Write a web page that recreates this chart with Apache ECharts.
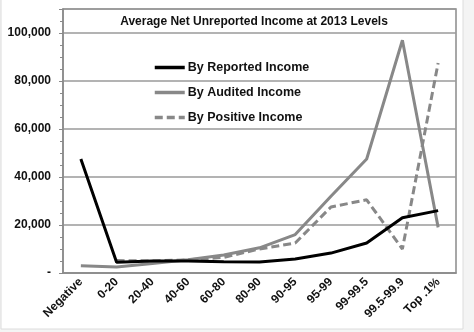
<!DOCTYPE html>
<html><head><meta charset="utf-8">
<script src="https://cdn.jsdelivr.net/npm/echarts@6/dist/echarts.min.js"></script>
<style>html,body{margin:0;padding:0;background:#f4f4f4}#c{width:474px;height:332px}</style>
</head><body><div id="c"></div>
<script>
const categories = ['Negative','0-20','20-40','40-60','60-80','80-90','90-95','95-99','99-99.5','99.5-99.9','Top .1%'];
const reported = [47500, 4500, 5000, 5000, 4700, 4600, 5800, 8300, 12500, 23000, 26000];
const audited  = [3000, 2500, 4000, 5500, 7500, 10500, 16000, 32000, 47500, 97000, 19000];
const positive = ['-', 5200, 5000, 5500, 6500, 10000, 12500, 27500, 30500, 10000, 87500];
const seriesNames = ['By Reported Income','By Audited Income','By Positive Income'];
const titleText = 'Average Net Unreported Income at 2013 Levels';

const F = '"Liberation Sans", Arial, sans-serif';
const chart = echarts.init(document.getElementById('c'), null, {renderer:'canvas'});
chart.setOption({
  animation:false,
  backgroundColor:'#f4f4f4',
  graphic:[
    {type:'rect', z:-10, shape:{x:1,y:-2,width:462,height:331}, style:{fill:'#ffffff', stroke:'#dcdcdc', lineWidth:1}},
    {type:'text', z:10, style:{text:titleText, x:254, y:22, textAlign:'center', textVerticalAlign:'middle', font:'bold 12px '+F, fill:'#111'}}
  ],
  grid:{left:63, right:18, top:9, bottom:59, show:true, borderColor:'#8a8a8a', borderWidth:1.5, backgroundColor:'transparent'},
  legend:{
    orient:'vertical', left:148, top:56, itemWidth:30, itemHeight:14, itemGap:12,
    itemStyle:{opacity:0},
    lineStyle:{width:3.5},
    textStyle:{fontFamily:F, fontWeight:'bold', fontSize:12.5, color:'#111', padding:[0,0,0,-2]},
    data:seriesNames
  },
  xAxis:{
    type:'category', data:categories, boundaryGap:true,
    axisLine:{lineStyle:{color:'#8a8a8a', width:1.5}},
    axisTick:{show:false},
    axisLabel:{rotate:45, interval:0, margin:7, fontFamily:F, fontWeight:'bold', fontSize:12, color:'#111'}
  },
  yAxis:{
    type:'value', min:0, max:110000, interval:20000,
    axisLine:{show:true, lineStyle:{color:'#8a8a8a', width:1.5}},
    axisTick:{show:true, inside:false, length:4, lineStyle:{color:'#8a8a8a'}},
    minorTick:{show:true, splitNumber:4, length:3, lineStyle:{color:'#8a8a8a', width:1}},
    splitLine:{show:true, lineStyle:{color:'#9a9a9a', width:1.5}},
    axisLabel:{margin:12, fontFamily:F, fontWeight:'bold', fontSize:12, color:'#111',
      formatter:v => v===0 ? '-' : (v>100000 ? '' : v.toLocaleString('en-US'))}
  },
  series:[
    {name:seriesNames[0], type:'line', data:reported, symbol:'none', z:4, lineStyle:{color:'#000', width:3}, itemStyle:{color:'#000'}},
    {name:seriesNames[1], type:'line', data:audited, symbol:'none', z:3, lineStyle:{color:'#888', width:3}, itemStyle:{color:'#888'}},
    {name:seriesNames[2], type:'line', data:positive, symbol:'none', z:2, lineStyle:{color:'#888', width:3, type:[8,4]}, itemStyle:{color:'#888'}}
  ]
});
</script></body></html>
